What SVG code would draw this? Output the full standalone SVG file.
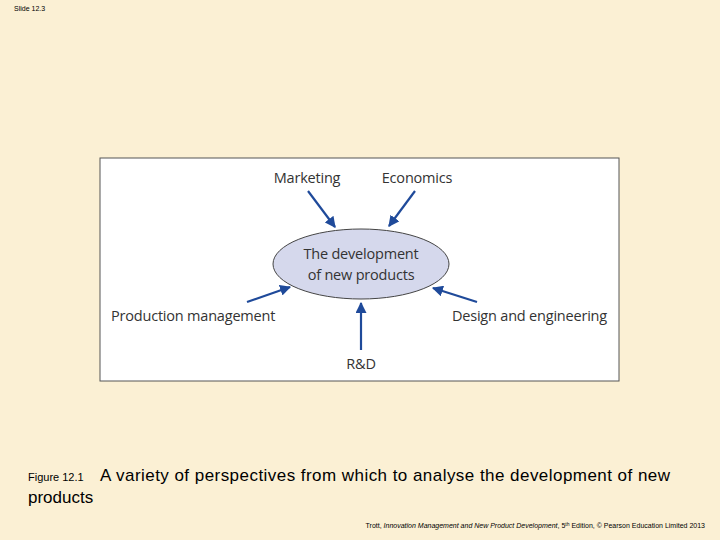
<svg xmlns="http://www.w3.org/2000/svg" width="720" height="540" viewBox="0 0 720 540">
<style>
.l{font-family:"Open Sans","Liberation Sans",sans-serif;font-size:14.5px;fill:#333;letter-spacing:-0.2px}
.a{stroke:#1f4a9a;stroke-width:2.2;fill:none;marker-end:url(#ah)}
.s{font-family:"Liberation Sans",Arial,sans-serif;fill:#000}
</style>
<defs><marker id="ah" viewBox="0 0 10 10" refX="9" refY="5" markerWidth="5" markerHeight="5" orient="auto"><path d="M0,0L10,5L0,10z" fill="#1f4a9a"/></marker></defs>
<rect width="720" height="540" fill="#fbf0d4"/>
<text x="14" y="11" class="s" font-size="7">Slide 12.3</text>
<rect x="100" y="158" width="519" height="223" fill="#fff" stroke="#555" stroke-width="1"/>
<g id="center"><ellipse cx="361" cy="264" rx="88" ry="35" fill="#d5d8ec" stroke="#444" stroke-width="1"/>
<text x="361" y="259" class="l" text-anchor="middle">The development</text>
<text x="361" y="280" class="l" text-anchor="middle">of new products</text></g>
<g id="marketing"><text x="307" y="183" class="l" text-anchor="middle">Marketing</text></g>
<g id="economics"><text x="417" y="183" class="l" text-anchor="middle">Economics</text></g>
<g id="production"><text x="111" y="321" class="l">Production management</text></g>
<g id="design"><text x="607" y="321" class="l" text-anchor="end">Design and engineering</text></g>
<g id="rd"><text x="361" y="369" class="l" text-anchor="middle">R&amp;D</text></g>
<g id="connectors">
<line x1="308" y1="191" x2="335" y2="227" class="a"/>
<line x1="415" y1="191" x2="389" y2="226" class="a"/>
<line x1="247" y1="302" x2="290" y2="287" class="a"/>
<line x1="477" y1="302" x2="433" y2="288" class="a"/>
<line x1="361" y1="350" x2="361" y2="303" class="a"/>
</g>
<text x="28" y="481" class="s" font-size="11">Figure 12.1</text>
<text x="100" y="481" class="s" font-size="17" textLength="570">A variety of perspectives from which to analyse the development of new</text>
<text x="28" y="503" class="s" font-size="17">products</text>
<text x="705" y="528" class="s" font-size="7" text-anchor="end">Trott, <tspan font-style="italic">Innovation Management and New Product Development</tspan>, 5<tspan font-size="5" dy="-2">th</tspan><tspan dy="2"> Edition, © Pearson Education Limited 2013</tspan></text>
</svg>
